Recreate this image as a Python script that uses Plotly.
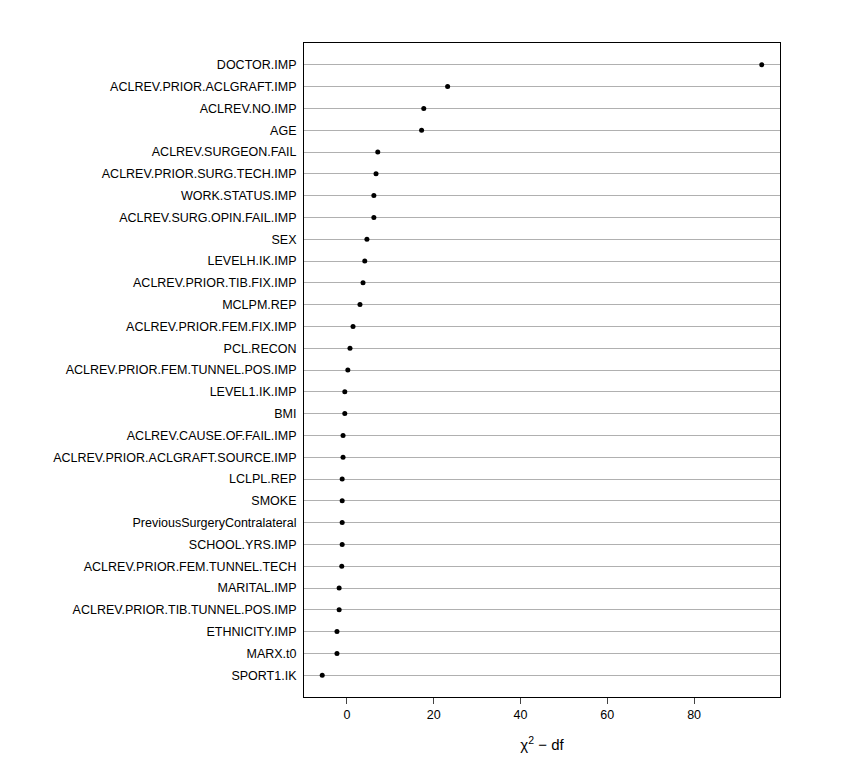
import plotly.graph_objects as go

variables = [
    "DOCTOR.IMP", "ACLREV.PRIOR.ACLGRAFT.IMP", "ACLREV.NO.IMP", "AGE",
    "ACLREV.SURGEON.FAIL", "ACLREV.PRIOR.SURG.TECH.IMP", "WORK.STATUS.IMP",
    "ACLREV.SURG.OPIN.FAIL.IMP", "SEX", "LEVELH.IK.IMP", "ACLREV.PRIOR.TIB.FIX.IMP",
    "MCLPM.REP", "ACLREV.PRIOR.FEM.FIX.IMP", "PCL.RECON",
    "ACLREV.PRIOR.FEM.TUNNEL.POS.IMP", "LEVEL1.IK.IMP", "BMI",
    "ACLREV.CAUSE.OF.FAIL.IMP", "ACLREV.PRIOR.ACLGRAFT.SOURCE.IMP", "LCLPL.REP",
    "SMOKE", "PreviousSurgeryContralateral", "SCHOOL.YRS.IMP",
    "ACLREV.PRIOR.FEM.TUNNEL.TECH", "MARITAL.IMP", "ACLREV.PRIOR.TIB.TUNNEL.POS.IMP",
    "ETHNICITY.IMP", "MARX.t0", "SPORT1.IK",
]
chisq_df = [
    95.6, 23.2, 17.7, 17.2, 7.1, 6.7, 6.2, 6.2, 4.6, 4.1, 3.7, 3.0, 1.4, 0.7,
    0.2, -0.5, -0.5, -0.9, -0.9, -1.1, -1.1, -1.1, -1.1, -1.2, -1.8, -1.8,
    -2.3, -2.3, -5.7,
]
x_ticks = [0, 20, 40, 60, 80]

positions = list(range(len(variables), 0, -1))

fig = go.Figure()
fig.add_trace(go.Scatter(
    x=chisq_df, y=positions, mode="markers",
    marker=dict(color="black", size=5),
    showlegend=False,
))

fig.update_layout(
    width=862, height=768,
    margin=dict(l=296, r=90, t=35, b=79),
    plot_bgcolor="white", paper_bgcolor="white",
    font=dict(family="Liberation Sans, Arial", size=12.5, color="black"),
)
fig.update_xaxes(
    range=[-9.9, 99.8], tickvals=x_ticks, ticks="outside", ticklen=6,
    showgrid=False, zeroline=False, showline=True, linecolor="black", mirror=True,
    title=dict(text="χ<sup>2</sup> − df", standoff=18),
)
fig.update_yaxes(
    range=[0, len(variables) + 1], tickvals=positions, ticktext=variables,
    ticks="", showgrid=True, gridcolor="#b0b0b0", gridwidth=1, zeroline=False,
    showline=True, linecolor="black", mirror=True, ticklabelstandoff=4,
)

fig.write_html("out.html")
